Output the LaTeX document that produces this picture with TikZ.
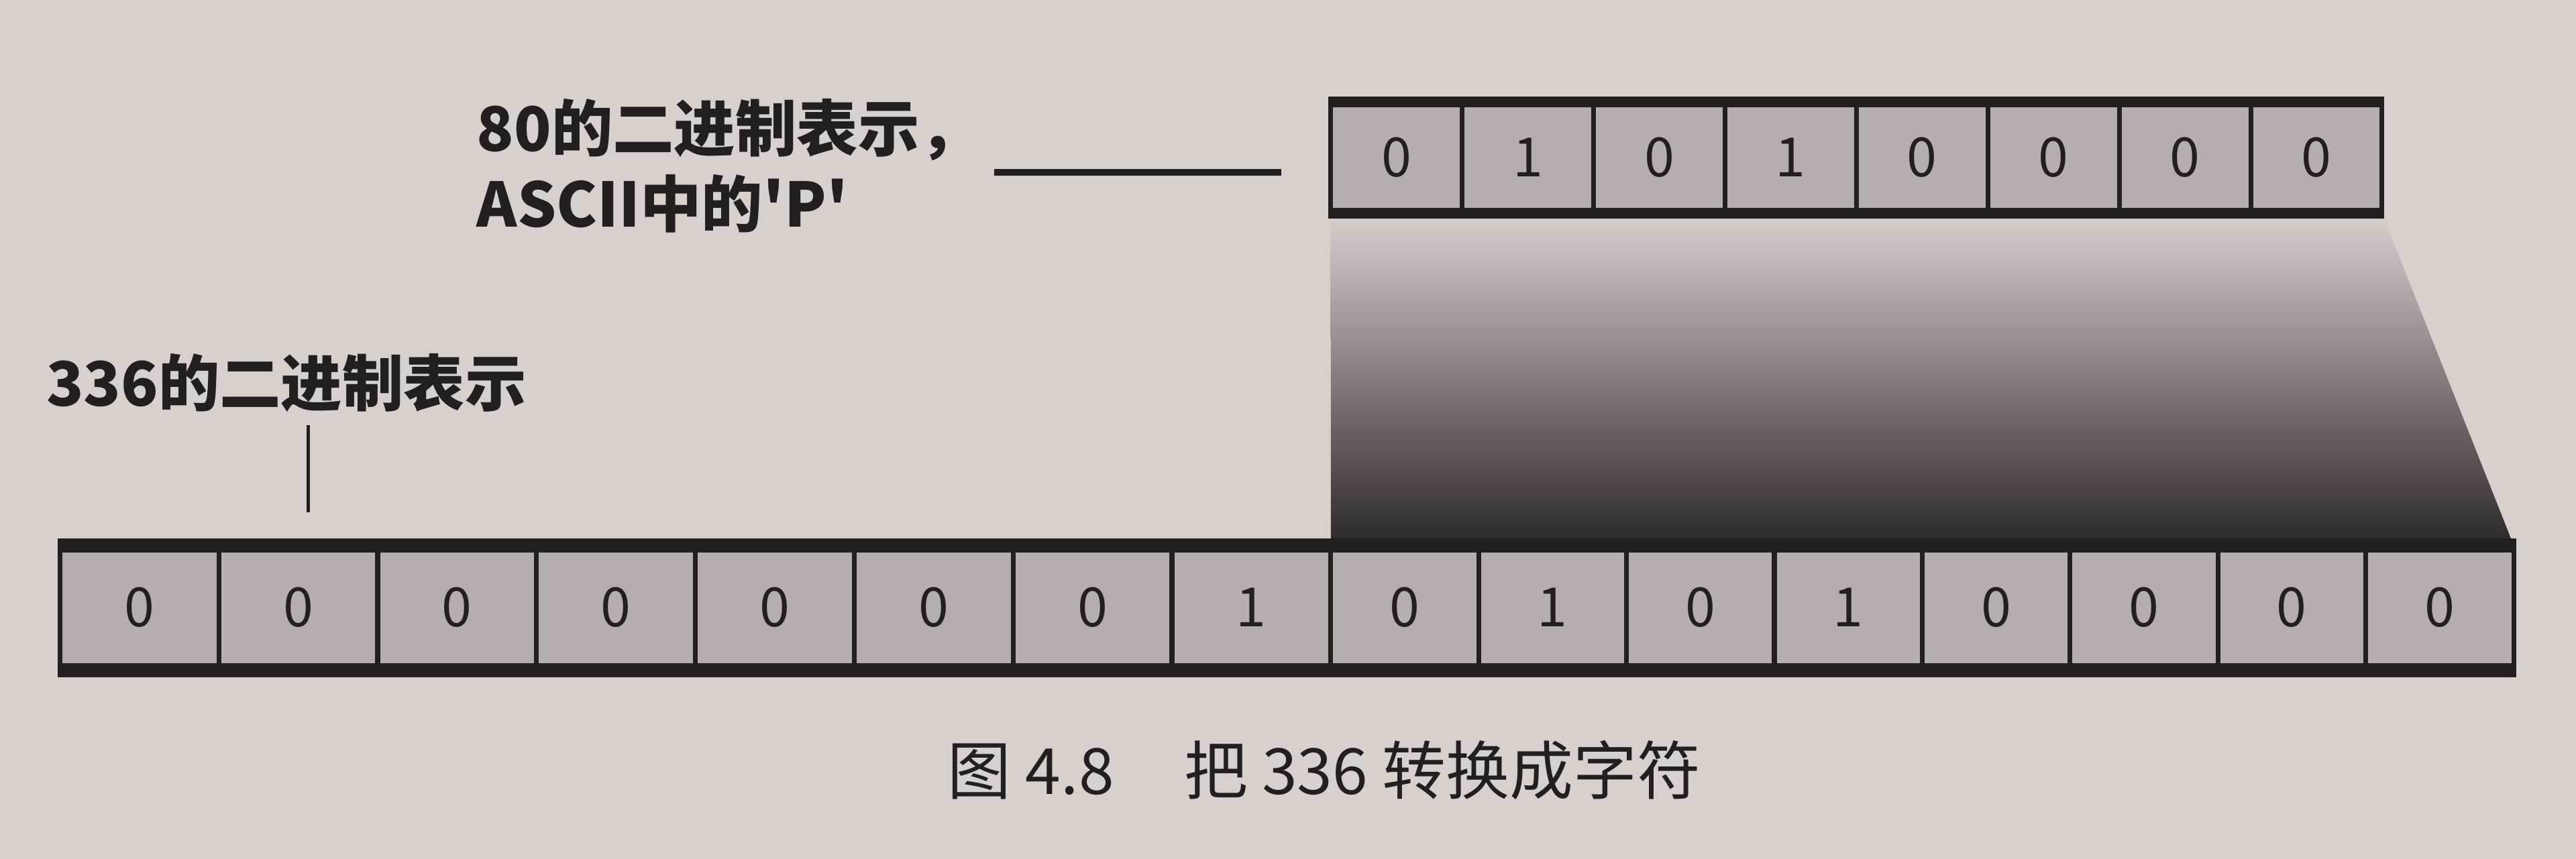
\documentclass[tikz,border=0pt]{standalone}
\usepackage{fontspec}
\newfontfamily\cjk{Noto Sans CJK SC}
\usetikzlibrary{positioning, calc}
\definecolor{paper}{RGB}{215,209,206}
\definecolor{cellgray}{RGB}{180,174,172}
\definecolor{ink}{RGB}{36,31,31}
\tikzstyle{topbit} = [rectangle, minimum width=1.959cm, minimum height=1.665cm, inner sep=0pt, outer sep=0pt, draw=ink, line width=2pt, fill=cellgray, text=ink, font=\cjk\fontsize{23}{23}\selectfont]
\tikzstyle{lowbitA} = [topbit, minimum width=2.368cm, minimum height=1.861cm]
\tikzstyle{lowbitB} = [lowbitA, minimum width=2.204cm]
\tikzstyle{band} = [draw=ink, line width=4.5pt, shorten <=-1pt, shorten >=-1pt]
\tikzstyle{note} = [inner sep=0pt, text=ink, align=left, font=\cjk\bfseries\fontsize{26}{32}\selectfont]
\tikzstyle{figcap} = [inner sep=0pt, text=ink, font=\cjk\fontsize{27}{27}\selectfont]
\tikzstyle{pointer} = [draw=ink, line width=3pt]
\tikzstyle{tickline} = [draw=ink, line width=1.5pt]
\begin{document}
\begin{tikzpicture}[x=0.02449cm, y=0.02449cm]
\fill [paper] (0,0) rectangle (1568,523);
\node (t1) [topbit] at (850,427) {0};
\foreach \v [count=\i from 2] in {1,0,1,0,0,0,0}
  {\pgfmathtruncatemacro\j{\i-1}
   \node (t\i) [topbit, right=0pt of t\j] {\v};}
\node (b1) [lowbitA] at (84.85,153) {0};
\foreach \v [count=\i from 2] in {0,0,0,0,0,0,1}
  {\pgfmathtruncatemacro\j{\i-1}
   \node (b\i) [lowbitA, right=0pt of b\j] {\v};}
\foreach \v [count=\i from 9] in {0,1,0,1,0,0,0,0}
  {\pgfmathtruncatemacro\j{\i-1}
   \node (b\i) [lowbitB, right=0pt of b\j] {\v};}
\shade [top color=paper, bottom color=ink!95!paper] (t1.south west) -- (t8.south east) -- (b16.north east) -- (b9.north west) -- cycle;
\draw [band] (t1.north west) -- (t8.north east);
\draw [band] (t1.south west) -- (t8.south east);
\draw [band, line width=6pt] (b1.north west) -- (b16.north east);
\draw [band, line width=6pt] (b1.south west) -- (b16.south east);
\node (lab80) [note, anchor=west] at (290,422) {80的二进制表示，\\ASCII中的'P'};
\node (lab336) [note, anchor=west] at (28,290) {336的二进制表示};
\node (cap) [figcap] at (806,54) {图 4.8\hspace{1.1em}把 336 转换成字符};
\draw [pointer] ($(lab80.east)+(8,-4)$) -- ($(t1.west |- lab80.east)+(-30,-4)$);
\draw [tickline] (b2.north) ++(6,20) -- ++(0,53);
\end{tikzpicture}
\end{document}
